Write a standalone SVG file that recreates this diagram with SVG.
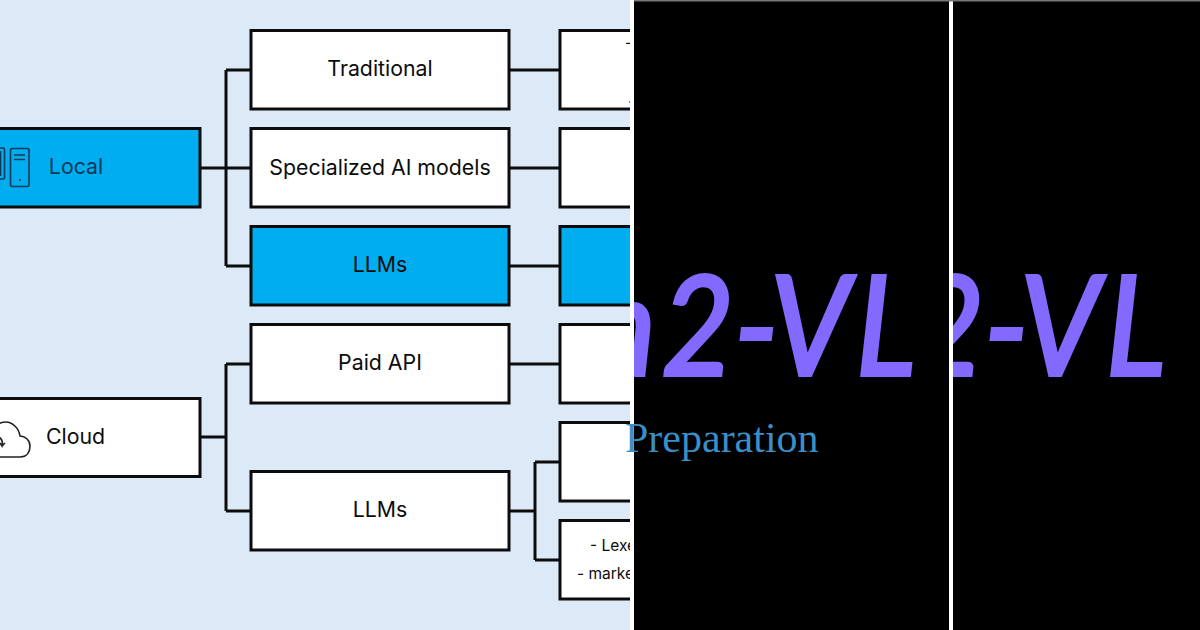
<svg xmlns="http://www.w3.org/2000/svg" width="1200" height="630" viewBox="0 0 1200 630">
<style>
.b{stroke:#0c0c0c;stroke-width:3;fill:#fff}
.blue{fill:#00aef0}
.t{font-family:"Inter","Liberation Sans",sans-serif;font-size:21.3px;fill:#0c0c0c;text-anchor:middle}
.s{font-family:"Inter","Liberation Sans",sans-serif;font-size:15.5px;fill:#0c0c0c}
.c{stroke:#0c0c0c;stroke-width:3;fill:none}
.i{stroke:#10385a;stroke-width:1.6;fill:none}
.v{font-family:"Lato","Liberation Sans",sans-serif;font-style:italic;font-weight:400;font-size:139px;fill:#8469ff;stroke:#8469ff;stroke-width:4}
</style>
<defs>
<clipPath id="left"><rect x="0" y="0" width="630" height="630"/></clipPath>
<clipPath id="p1"><rect x="634" y="0" width="315" height="630"/></clipPath>
<clipPath id="p2"><rect x="953" y="0" width="247" height="630"/></clipPath>
<clipPath id="p0"><rect x="625" y="400" width="320" height="80"/></clipPath>
</defs>
<rect width="1200" height="630" fill="#fff"/>
<rect width="630" height="630" fill="#dce9f7"/>
<g clip-path="url(#left)">
<g id="connectors">
<path class="c" d="M200 168H251M226 70V266M226 70H251M226 266H251"/>
<path class="c" d="M509 70H560M509 168H560M509 266H560M509 364H560"/>
<path class="c" d="M200 437H226M226 364V511M226 364H251M226 511H251"/>
<path class="c" d="M509 511H535M535 462V560M535 462H560M535 560H560"/>
</g>
<g id="local"><rect class="b blue" x="-10" y="128.500" width="210" height="78.500"/>
<rect class="i" x="-6" y="148" width="10.500" height="31" rx="1.500"/>
<path class="i" d="M0.500 151V176"/>
<rect class="i" x="10.500" y="148.500" width="18.500" height="38" rx="2"/>
<path class="i" d="M14 155H25M14 159.500H25"/><circle cx="20" cy="180" r="1" fill="#10385a"/>
<text class="t" x="76" y="174" style="fill:#10385a">Local</text></g>
<g id="cloud"><rect class="b" x="-10" y="398.500" width="210" height="78"/>
<path class="i" style="stroke:#222" d="M-4 457H20C27 457 30 452 30 446C30 440 25 436 20 436C19 428 12 422 6 422C1 422 -3 424 -6 427"/>
<path class="i" style="stroke:#222" d="M-3 436C2 438 3 442 2 446L0 443M2 446L5 443"/>
<text class="t" x="75.500" y="443.500">Cloud</text></g>
<g id="traditional"><rect class="b" x="251" y="30.500" width="258" height="78.500"/><text class="t" x="380" y="75.500">Traditional</text></g>
<g id="specialized"><rect class="b" x="251" y="128.500" width="258" height="78.500"/><text class="t" x="380" y="174.500">Specialized AI models</text></g>
<g id="llms-local"><rect class="b blue" x="251" y="226.500" width="258" height="78.500"/><text class="t" x="380" y="271.500">LLMs</text></g>
<g id="paid-api"><rect class="b" x="251" y="324.500" width="258" height="78.500"/><text class="t" x="380" y="369.500">Paid API</text></g>
<g id="llms-cloud"><rect class="b" x="251" y="471.500" width="258" height="78.500"/><text class="t" x="380" y="516.500">LLMs</text></g>
<g id="r1"><rect class="b" x="560" y="30.500" width="90" height="78.500"/><text class="s" x="625" y="48">-</text><text class="s" x="628" y="103">.</text></g>
<g id="r2"><rect class="b" x="560" y="128.500" width="90" height="78.500"/></g>
<g id="r3"><rect class="b blue" x="560" y="226.500" width="90" height="78.500"/></g>
<g id="r4"><rect class="b" x="560" y="324.500" width="90" height="78.500"/></g>
<g id="r5"><rect class="b" x="560" y="422.500" width="90" height="78.500"/></g>
<g id="r6"><rect class="b" x="560" y="520.500" width="90" height="78.500"/><text class="s" x="590" y="551">- Lexe</text><text class="s" x="577" y="579">- marke</text></g>
</g>
<rect x="634" y="0" width="315" height="630" fill="#000"/>
<rect x="953" y="0" width="247" height="630" fill="#000"/>
<rect x="634" y="0" width="566" height="1.500" fill="#777"/>
<g clip-path="url(#p1)"><text class="v" transform="scale(0.9 1)" x="655 735 816 856 951" y="375">n2-VL</text></g>
<g clip-path="url(#p2)"><text class="v" transform="scale(0.9 1)" x="1013 1094 1134 1229" y="375">2-VL</text></g>
<g clip-path="url(#p0)"><text x="625" y="452" font-family="Liberation Serif" font-size="42" fill="#3a8fc6">Preparation</text></g>
</svg>
